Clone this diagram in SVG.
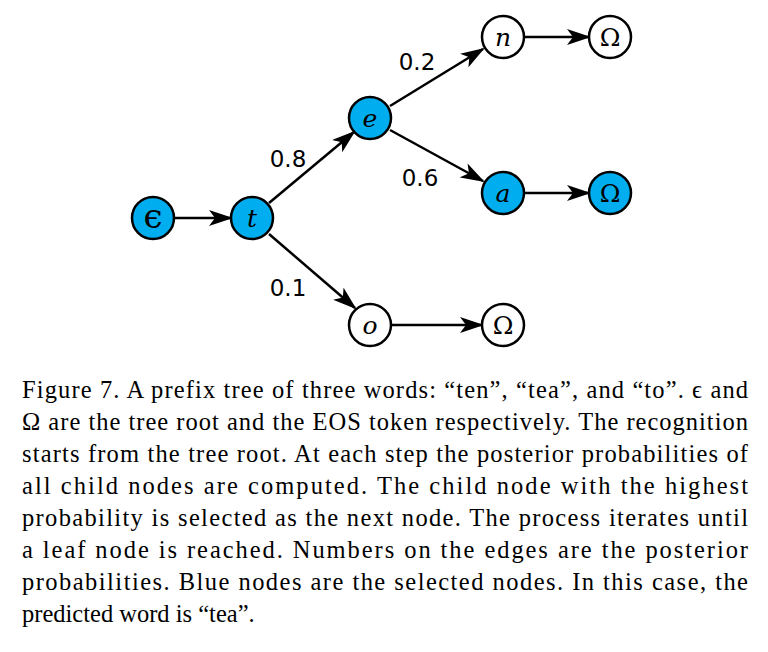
<svg xmlns="http://www.w3.org/2000/svg" width="768" height="652" viewBox="0 0 768 652">
<style>
.n{stroke:#000;stroke-width:2.5;fill:#fff}
.b{fill:#00AEEF}
.l{font-family:"DejaVu Serif",serif;font-style:italic;font-size:25px;text-anchor:middle}
.p{font-family:"DejaVu Sans",sans-serif;font-size:23px;text-anchor:middle}
.c{font-family:"Liberation Serif",serif;font-size:24.5px}
.e{stroke:#000;stroke-width:2.5;fill:none;marker-end:url(#ah)}
</style>
<defs><marker id="ah" viewBox="0 0 24 16" refX="22" refY="8" markerWidth="24" markerHeight="16" orient="auto" markerUnits="userSpaceOnUse"><path d="M0,0 L24,8 L0,16 L6,8 Z" fill="#000"/></marker></defs>
<rect width="768" height="652" fill="#fff"/>
<g id="edges">
<line class="e" x1="175" y1="218" x2="231" y2="218"/>
<line class="e" x1="269" y1="203" x2="354" y2="132"/>
<line class="e" x1="269" y1="234" x2="355" y2="308"/>
<line class="e" x1="390" y1="106" x2="483" y2="49"/>
<line class="e" x1="390" y1="130" x2="483" y2="181"/>
<line class="e" x1="525" y1="37" x2="589" y2="37"/>
<line class="e" x1="525" y1="193" x2="589" y2="193"/>
<line class="e" x1="392" y1="325" x2="482" y2="325"/>
<text class="p" x="288" y="167">0.8</text>
<text class="p" x="417" y="70">0.2</text>
<text class="p" x="420" y="186">0.6</text>
<text class="p" x="288" y="296">0.1</text>
</g>
<g id="eps"><circle class="n b" cx="153" cy="218" r="21"/><text class="l" x="153" y="228" style="font-style:normal;font-size:34px">ϵ</text></g>
<g id="t"><circle class="n b" cx="252" cy="218" r="21"/><text class="l" x="252" y="227">t</text></g>
<g id="e"><circle class="n b" cx="370" cy="118" r="21"/><text class="l" x="370" y="127">e</text></g>
<g id="n"><circle class="n" cx="503" cy="37" r="21"/><text class="l" x="503" y="46">n</text></g>
<g id="omega1"><circle class="n" cx="610" cy="37" r="21"/><text class="l" x="610" y="46" style="font-style:normal">Ω</text></g>
<g id="a"><circle class="n b" cx="503" cy="193" r="21"/><text class="l" x="503" y="202">a</text></g>
<g id="omega2"><circle class="n b" cx="610" cy="193" r="21"/><text class="l" x="610" y="202" style="font-style:normal">Ω</text></g>
<g id="o"><circle class="n" cx="370" cy="325" r="21"/><text class="l" x="370" y="334">o</text></g>
<g id="omega3"><circle class="n" cx="503" cy="325" r="21"/><text class="l" x="503" y="334" style="font-style:normal">Ω</text></g>
<g id="caption" class="c">
<text x="22" y="398" textLength="726" lengthAdjust="spacing">Figure 7. A prefix tree of three words: “ten”, “tea”, and “to”. ϵ and</text>
<text x="22" y="430" textLength="726" lengthAdjust="spacing">Ω are the tree root and the EOS token respectively. The recognition</text>
<text x="22" y="462" textLength="726" lengthAdjust="spacing">starts from the tree root. At each step the posterior probabilities of</text>
<text x="22" y="494" textLength="726" lengthAdjust="spacing">all child nodes are computed.  The child node with the highest</text>
<text x="22" y="526" textLength="726" lengthAdjust="spacing">probability is selected as the next node. The process iterates until</text>
<text x="22" y="558" textLength="726" lengthAdjust="spacing">a leaf node is reached.  Numbers on the edges are the posterior</text>
<text x="22" y="590" textLength="726" lengthAdjust="spacing">probabilities. Blue nodes are the selected nodes. In this case, the</text>
<text x="22" y="622">predicted word is “tea”.</text>
</g>
</svg>
